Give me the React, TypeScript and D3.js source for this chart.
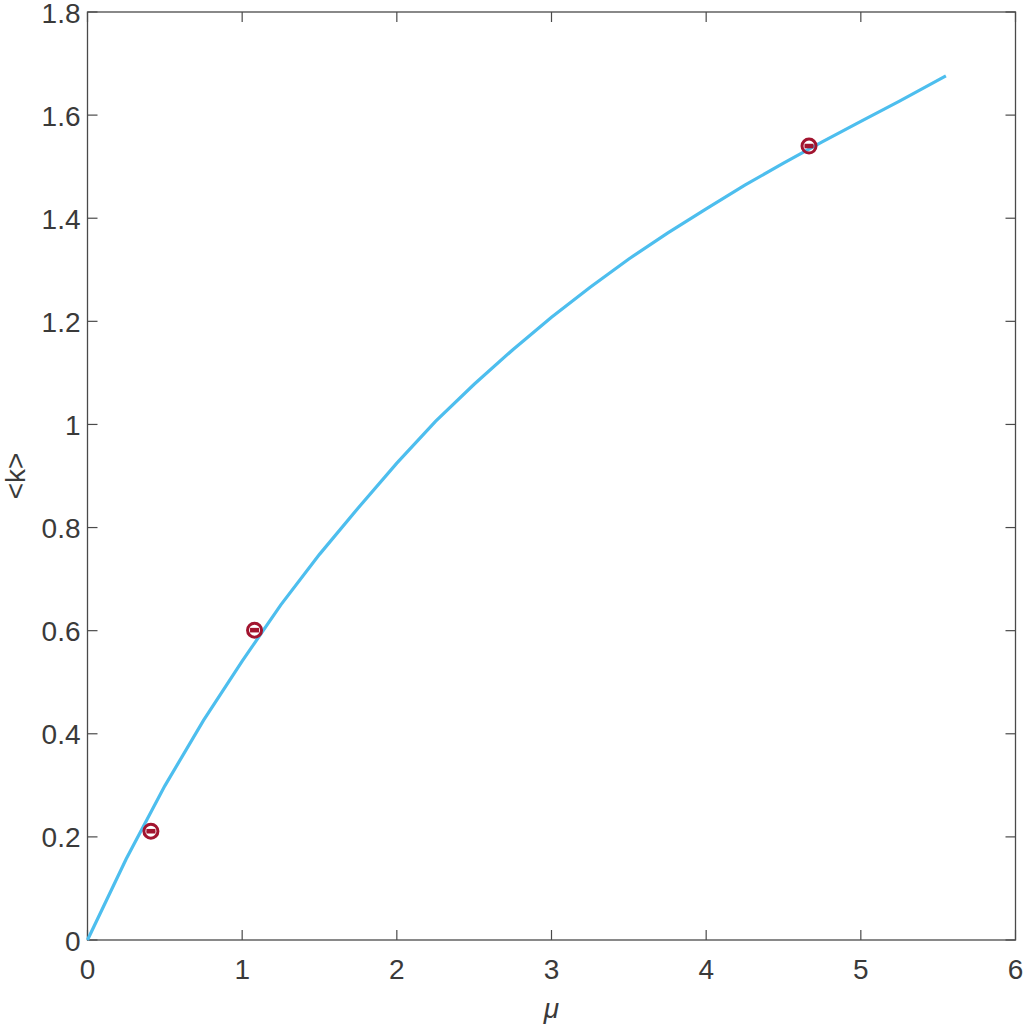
import { useRef, useEffect } from "react";
import * as d3 from "d3";

// curve
const muValues = [0, 0.25, 0.5, 0.75, 1.0, 1.25, 1.5, 1.75, 2.0, 2.25, 2.5, 2.75, 3.0, 3.25, 3.5, 3.75, 4.0, 4.25, 4.5, 4.75, 5.0, 5.25, 5.55];
const kValues = [0, 0.157, 0.299, 0.426, 0.541, 0.65, 0.748, 0.838, 0.925, 1.006, 1.078, 1.145, 1.208, 1.266, 1.321, 1.371, 1.418, 1.464, 1.507, 1.548, 1.588, 1.627, 1.676];

// measured points with error bars
const pointMu = [0.41, 1.08, 4.665];
const pointK = [0.211, 0.601, 1.54];
const pointErr = [0.002, 0.002, 0.002];

const xTicks = [0, 1, 2, 3, 4, 5, 6];
const yTicks = [0, 0.2, 0.4, 0.6, 0.8, 1, 1.2, 1.4, 1.6, 1.8];

const width = 1025;
const height = 1029;
const margin = { top: 12, right: 9.5, bottom: 89, left: 87.5 };

export default function App() {
  const svgRef = useRef<SVGSVGElement>(null);

  useEffect(() => {
    const svg = d3.select(svgRef.current);
    svg.selectAll("*").remove();

    const x = d3.scaleLinear().domain([0, 6]).range([margin.left, width - margin.right]);
    const y = d3.scaleLinear().domain([0, 1.8]).range([height - margin.bottom, margin.top]);

    const axisColor = "#4a4a4a";
    const textColor = "#3a3a3a";
    const font = "'Liberation Sans', Arial, sans-serif";
    const tickLen = 10;

    // ticks (inward, on all four sides)
    const ticks = svg.append("g").attr("stroke", axisColor).attr("stroke-width", 1.2);
    xTicks.forEach((t) => {
      ticks.append("line").attr("x1", x(t)).attr("x2", x(t)).attr("y1", y(0)).attr("y2", y(0) - tickLen);
      ticks.append("line").attr("x1", x(t)).attr("x2", x(t)).attr("y1", y(1.8)).attr("y2", y(1.8) + tickLen);
    });
    yTicks.forEach((t) => {
      ticks.append("line").attr("x1", x(0)).attr("x2", x(0) + tickLen).attr("y1", y(t)).attr("y2", y(t));
      ticks.append("line").attr("x1", x(6)).attr("x2", x(6) - tickLen).attr("y1", y(t)).attr("y2", y(t));
    });

    svg
      .append("rect")
      .attr("x", x(0))
      .attr("y", y(1.8))
      .attr("width", x(6) - x(0))
      .attr("height", y(0) - y(1.8))
      .attr("fill", "none")
      .attr("stroke", axisColor)
      .attr("stroke-width", 1.3);

    // tick labels
    svg
      .append("g")
      .selectAll("text")
      .data(xTicks)
      .join("text")
      .attr("x", (d) => x(d))
      .attr("y", y(0) + 39)
      .attr("text-anchor", "middle")
      .attr("font-family", font)
      .attr("font-size", 28)
      .attr("fill", textColor)
      .text((d) => String(d));

    svg
      .append("g")
      .selectAll("text")
      .data(yTicks)
      .join("text")
      .attr("x", x(0) - 7)
      .attr("y", (d) => y(d) + 10.5)
      .attr("text-anchor", "end")
      .attr("font-family", font)
      .attr("font-size", 28)
      .attr("fill", textColor)
      .text((d) => String(d));

    // axis labels
    svg
      .append("text")
      .attr("x", (x(0) + x(6)) / 2)
      .attr("y", 1018)
      .attr("text-anchor", "middle")
      .attr("font-family", font)
      .attr("font-size", 28)
      .attr("font-style", "italic")
      .attr("fill", textColor)
      .text("μ");

    svg
      .append("text")
      .attr("transform", `translate(25, ${(y(0) + y(1.8)) / 2}) rotate(-90)`)
      .attr("text-anchor", "middle")
      .attr("font-family", font)
      .attr("font-size", 28)
      .attr("fill", textColor)
      .text("<k>");

    // curve
    const line = d3
      .line<number>()
      .x((d) => x(d))
      .y((_, i) => y(kValues[i]));

    svg
      .append("path")
      .datum(muValues)
      .attr("d", line)
      .attr("fill", "none")
      .attr("stroke", "#4DBEEE")
      .attr("stroke-width", 3.2);

    // points with error bars
    const red = "#A2142F";
    const pts = svg.append("g");
    pointMu.forEach((m, i) => {
      const cx = x(m);
      const cy = y(pointK[i]);
      const top = y(pointK[i] + pointErr[i]);
      const bot = y(pointK[i] - pointErr[i]);
      pts.append("line").attr("x1", cx).attr("x2", cx).attr("y1", top).attr("y2", bot).attr("stroke", red).attr("stroke-width", 2.5);
      [top, bot].forEach((yy) => {
        pts.append("line").attr("x1", cx - 4.5).attr("x2", cx + 4.5).attr("y1", yy).attr("y2", yy).attr("stroke", red).attr("stroke-width", 2.5);
      });
      pts.append("circle").attr("cx", cx).attr("cy", cy).attr("r", 7).attr("fill", "none").attr("stroke", red).attr("stroke-width", 3);
    });
  }, []);

  return (
    <svg
      ref={svgRef}
      width={width}
      height={height}
      style={{ position: "absolute", left: 0, top: 0, background: "#fff" }}
    ></svg>
  );
}
